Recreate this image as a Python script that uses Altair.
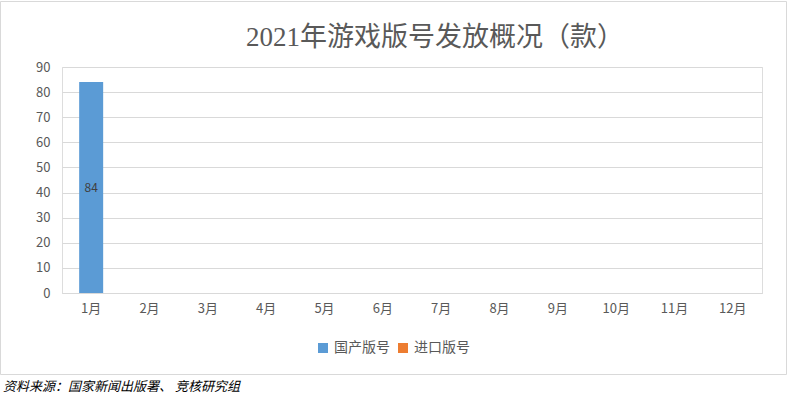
import altair as alt
import pandas as pd

months = ["1月", "2月", "3月", "4月", "5月", "6月", "7月", "8月", "9月", "10月", "11月", "12月"]
domestic = [84, None, None, None, None, None, None, None, None, None, None, None]
imported = [None, None, None, None, None, None, None, None, None, None, None, None]
series = ["国产版号", "进口版号"]
colors = ["#5b9bd5", "#ed7d31"]
title_text = "2021年游戏版号发放概况（款）"
source_text = "资料来源：国家新闻出版署、 竞核研究组"
y_ticks = [0, 10, 20, 30, 40, 50, 60, 70, 80, 90]

rows = []
for m, d, i in zip(months, domestic, imported):
    rows.append({"month": m, "series": series[0], "value": d})
    rows.append({"month": m, "series": series[1], "value": i})
df = pd.DataFrame(rows)

FONT = "Noto Sans CJK SC"

xscale = alt.Scale(domain=months, paddingInner=0.59, paddingOuter=0.295)
yscale = alt.Scale(domain=[0, 90], nice=False)
xaxis = alt.Axis(labelAngle=0, ticks=False, domainColor="#d9d9d9", labelColor="#595959",
                 labelFontSize=13, labelFont=FONT, labelPadding=9, grid=False)
yaxis = alt.Axis(values=y_ticks, ticks=False, domain=False, gridColor="#d9d9d9",
                 labelOverlap=False, labelColor="#595959", labelFontSize=13,
                 labelFont=FONT, labelPadding=12)

bars = alt.Chart(df).mark_bar(size=24).encode(
    x=alt.X("month:N", sort=months, title=None, scale=xscale, axis=xaxis),
    y=alt.Y("value:Q", title=None, stack="zero", scale=yscale, axis=yaxis),
    color=alt.Color("series:N", scale=alt.Scale(domain=series, range=colors), title=None,
                    legend=alt.Legend(orient="none", legendX=254, legendY=274, direction="horizontal",
                                      symbolType="square", symbolSize=100, symbolStrokeWidth=0,
                                      labelFont=FONT, labelFontSize=14, labelColor="#595959",
                                      columnPadding=6, symbolOffset=0, labelOffset=4)),
    order=alt.Order("series:N"),
)

labels = alt.Chart(df).transform_filter("datum.value != null").transform_calculate(
    mid="datum.value / 2"
).mark_text(font=FONT, fontSize=12, color="#404040").encode(
    x=alt.X("month:N", sort=months, title=None, scale=xscale, axis=xaxis),
    y=alt.Y("mid:Q", title=None, scale=yscale, axis=yaxis),
    text=alt.Text("value:Q"),
)

title = alt.Chart(pd.DataFrame({"t": [title_text]})).mark_text(
    font="Liberation Serif, Noto Sans CJK SC", fontSize=27, color="#595959", align="center", baseline="middle"
).encode(x=alt.value(373), y=alt.value(-29), text="t:N")

source = alt.Chart(pd.DataFrame({"t": [source_text]})).mark_text(
    font=FONT, fontSize=13, fontStyle="italic", color="#000000", align="left", baseline="middle"
).encode(x=alt.value(-59), y=alt.value(320), text="t:N")

border = alt.Chart(pd.DataFrame({"a": [0]})).mark_rect(
    filled=False, stroke="#d9d9d9", strokeWidth=1
).encode(x=alt.value(-61.5), x2=alt.value(724.5), y=alt.value(-65.5), y2=alt.value(307.5))

chart = alt.layer(border, bars, labels, title, source).resolve_scale(
    x="shared", y="shared"
).properties(
    width=700, height=226,
    autosize=alt.AutoSizeParams(type="none"),
    padding={"left": 62, "top": 67, "right": 26, "bottom": 107},
).configure_view(stroke=None).configure(background="white")

chart.save("out.html", embed_options={"renderer": "svg", "actions": False})
